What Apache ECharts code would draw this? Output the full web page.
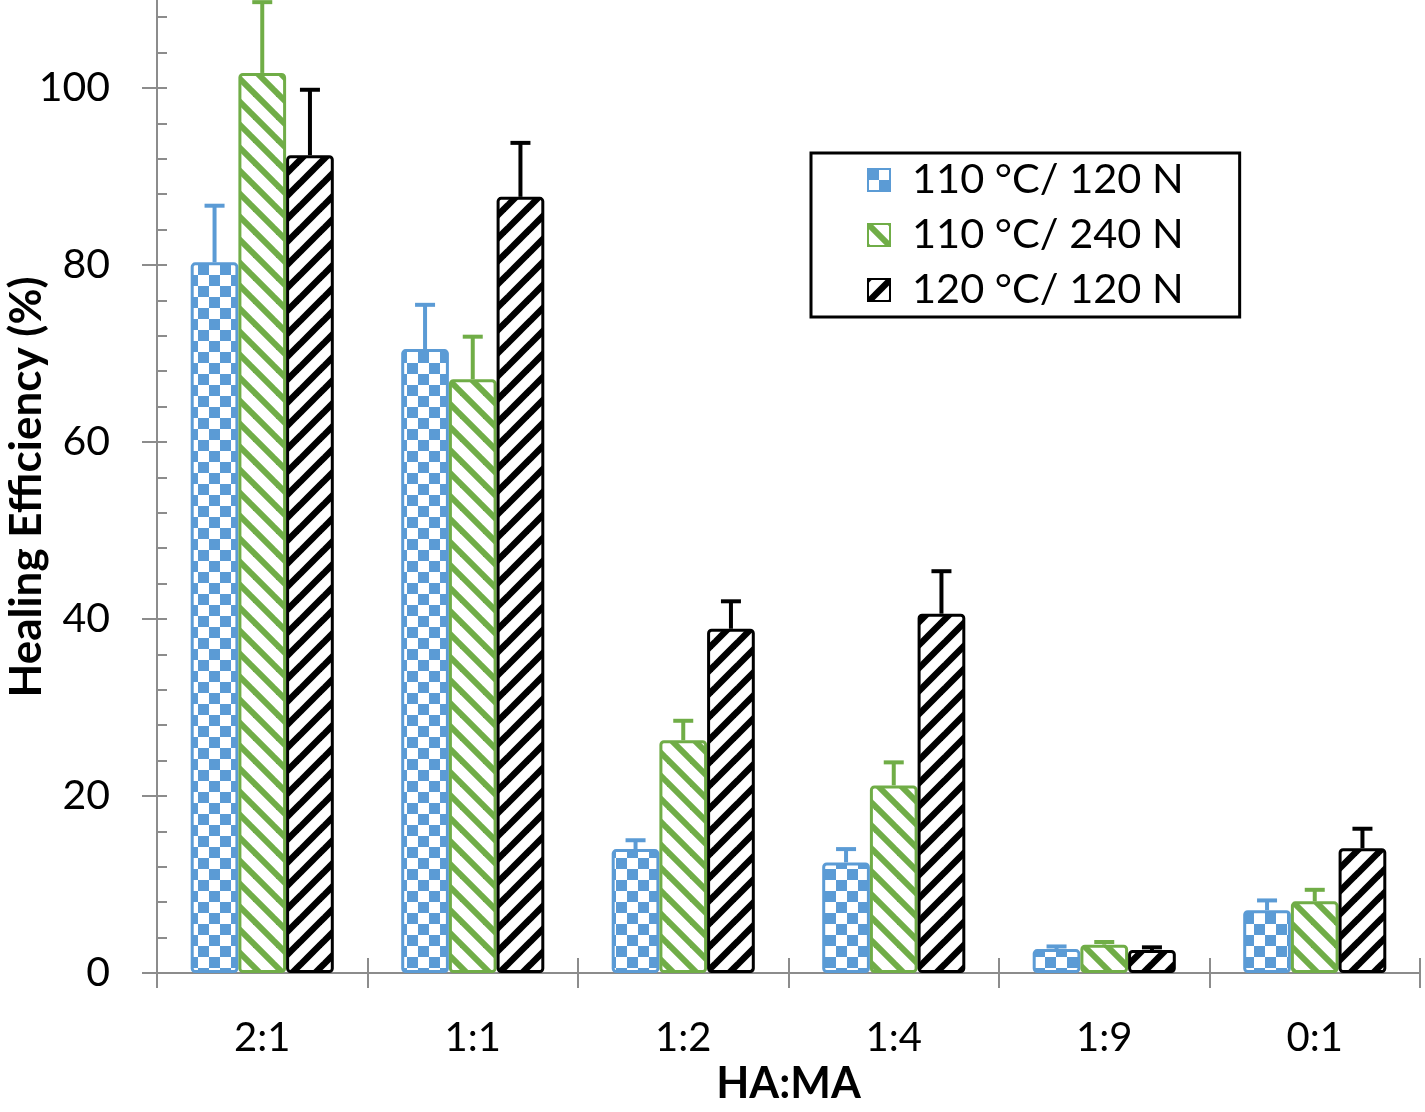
<!DOCTYPE html>
<html>
<head>
<meta charset="utf-8">
<script src="https://cdn.jsdelivr.net/npm/echarts@6/dist/echarts.min.js"></script>
<style>
  html, body { margin: 0; padding: 0; background: #fff; }
  #chart { width: 1425px; height: 1112px; }
</style>
</head>
<body>
<div id="chart"></div>
<script>
// data
const categories = ['2:1', '1:1', '1:2', '1:4', '1:9', '0:1'];
const seriesNames = ['110 °C/ 120 N', '110 °C/ 240 N', '120 °C/ 120 N'];
const blueValues  = [80.3, 70.5, 14.0, 12.5, 2.7, 7.1];
const blueErrors  = [6.4, 5.0, 1.0, 1.5, 0.3, 1.1];
const greenValues = [101.7, 67.1, 26.3, 21.2, 3.2, 8.1];
const greenErrors = [8.0, 4.8, 2.2, 2.6, 0.3, 1.3];
const blackValues = [92.4, 87.7, 38.9, 40.6, 2.6, 14.1];
const blackErrors = [7.4, 6.1, 3.1, 4.8, 0.3, 2.2];

const FONT = 'Lato, sans-serif';
const AXIS_GRAY = '#8c8c8c';
const BAR_W = 47.7;
const colors = ['#5B9BD5', '#70AD47', '#000000'];

function checker(c, s) {
  const cv = document.createElement('canvas');
  cv.width = cv.height = s * 2;
  const ctx = cv.getContext('2d');
  ctx.fillStyle = '#fff';
  ctx.fillRect(0, 0, s * 2, s * 2);
  ctx.fillStyle = c;
  ctx.fillRect(0, 0, s, s);
  ctx.fillRect(s, s, s, s);
  return cv;
}

function stripes(c, s, w, back) {
  const cv = document.createElement('canvas');
  cv.width = cv.height = s;
  const ctx = cv.getContext('2d');
  ctx.fillStyle = '#fff';
  ctx.fillRect(0, 0, s, s);
  ctx.strokeStyle = c;
  ctx.lineWidth = w;
  for (let k = -1; k <= 2; k++) {
    ctx.beginPath();
    if (back) {
      ctx.moveTo(-s, k * s - s);
      ctx.lineTo(2 * s, k * s + 2 * s);
    } else {
      ctx.moveTo(-s, k * s + s);
      ctx.lineTo(2 * s, k * s - 2 * s);
    }
    ctx.stroke();
  }
  return cv;
}

const patterns = [
  { image: checker(colors[0], 11), repeat: 'repeat' },
  { image: stripes(colors[1], 23, 6, true), repeat: 'repeat' },
  { image: stripes(colors[2], 23, 6.5, false), repeat: 'repeat' }
];

const values = [blueValues, greenValues, blackValues];
const errors = [blueErrors, greenErrors, blackErrors];

const barSeries = values.map((vals, i) => ({
  name: seriesNames[i],
  type: 'bar',
  xAxisIndex: 0,
  yAxisIndex: 0,
  barWidth: BAR_W,
  barGap: '0%',
  data: vals,
  itemStyle: {
    color: patterns[i],
    borderColor: colors[i],
    borderWidth: 3,
    borderRadius: 3
  },
  emphasis: { disabled: true }
}));

const errSeries = values.map((vals, i) => ({
  type: 'custom',
  xAxisIndex: 0,
  yAxisIndex: 0,
  z: 5,
  silent: true,
  data: vals.map((v, j) => [j, v, errors[i][j]]),
  renderItem: function (params, api) {
    const off = (i - 1) * BAR_W;
    const base = api.coord([api.value(0), api.value(1)]);
    const top = api.coord([api.value(0), api.value(1) + api.value(2)]);
    const x = base[0] + off;
    const st = { stroke: colors[i], lineWidth: 4 };
    return {
      type: 'group',
      children: [
        { type: 'line', shape: { x1: x, y1: base[1], x2: x, y2: top[1] }, style: st },
        { type: 'line', shape: { x1: x - 10, y1: top[1], x2: x + 10, y2: top[1] }, style: st }
      ]
    };
  }
}));

const chart = echarts.init(document.getElementById('chart'));
chart.setOption({
  animation: false,
  backgroundColor: '#fff',
  textStyle: { fontFamily: FONT },
  grid: { left: 157, right: 5, top: -89, bottom: 139, outerBoundsMode: 'none', containLabel: false },
  legend: {
    data: seriesNames.map(n => ({ name: n, icon: 'rect' })),
    orient: 'vertical',
    left: 811,
    top: 153,
    itemWidth: 22,
    itemHeight: 22,
    itemGap: 11,
    padding: [5, 56, 5, 56],
    borderColor: '#000',
    borderWidth: 3,
    textStyle: { fontFamily: FONT, fontSize: 41.5, color: '#000', lineHeight: 44, padding: [0, 0, 0, 17] },
    selectedMode: false
  },
  xAxis: [
    {
      type: 'category', data: categories, position: 'bottom',
      axisLine: { show: true, lineStyle: { color: AXIS_GRAY, width: 2 } },
      axisTick: { show: true, inside: false, length: 15, lineStyle: { color: AXIS_GRAY, width: 2 } },
      axisLabel: { fontSize: 40, color: '#000', margin: 45, fontFamily: FONT },
      name: 'HA:MA', nameLocation: 'middle', nameGap: 90, nameMoveOverlap: false,
      nameTextStyle: { fontSize: 43, fontWeight: 'bold', color: '#000', fontFamily: FONT }
    },
    {
      type: 'category', data: categories, position: 'bottom', offset: 0,
      axisLine: { show: false },
      axisTick: { show: true, inside: true, length: 15, lineStyle: { color: AXIS_GRAY, width: 2 } },
      axisLabel: { show: false }
    },
    {
      type: 'category', data: categories, position: 'bottom', offset: 0,
      axisLine: { show: false },
      axisTick: { show: true, inside: true, alignWithLabel: true, length: 10, lineStyle: { color: AXIS_GRAY, width: 2 } },
      axisLabel: { show: false }
    }
  ],
  yAxis: [
    {
      type: 'value', min: 0, max: 120, interval: 20, position: 'left',
      axisLine: { show: true, lineStyle: { color: AXIS_GRAY, width: 2 } },
      axisTick: { show: true, inside: false, length: 15, lineStyle: { color: AXIS_GRAY, width: 2 } },
      axisLabel: { fontSize: 41, color: '#000', margin: 47, fontFamily: FONT },
      splitLine: { show: false },
      name: 'Healing Efficiency (%)', nameLocation: 'middle', nameGap: 108, nameMoveOverlap: false,
      nameTextStyle: { fontSize: 44, fontWeight: 'bold', color: '#000', fontFamily: FONT, padding: [0, 90, 0, 0] }
    },
    {
      type: 'value', min: 0, max: 120, interval: 20, position: 'left', offset: 0,
      axisLine: { show: false },
      axisTick: { show: true, inside: true, length: 10, lineStyle: { color: AXIS_GRAY, width: 2 } },
      minorTick: { show: true, splitNumber: 5, length: 10, lineStyle: { color: AXIS_GRAY, width: 2 } },
      axisLabel: { show: false },
      splitLine: { show: false }
    }
  ],
  series: barSeries.concat(errSeries)
});
</script>
</body>
</html>
